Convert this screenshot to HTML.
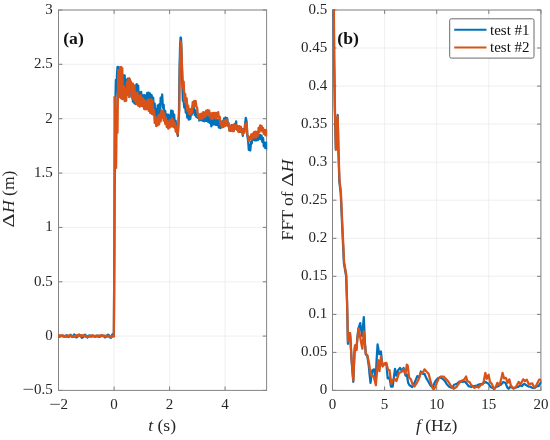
<!DOCTYPE html>
<html><head><meta charset="utf-8"><title>Figure</title>
<style>html,body{margin:0;padding:0;background:#fff;overflow:hidden}svg{display:block}</style></head>
<body>
<svg width="550" height="440" viewBox="0 0 550 440">
<rect width="550" height="440" fill="#fff"/>
<defs><clipPath id="cl"><rect x="58.0" y="9.5" width="209.2" height="381.6"/></clipPath><clipPath id="cr"><rect x="332.0" y="9.5" width="209.5" height="381.6"/></clipPath></defs>
<path d="M58.5 10.0V390.4M114.1 10.0V390.4M169.6 10.0V390.4M225.1 10.0V390.4M58.5 10.0H266.7M58.5 64.3H266.7M58.5 118.7H266.7M58.5 173.1H266.7M58.5 227.4H266.7M58.5 281.8H266.7M58.5 336.1H266.7M58.5 390.4H266.7" stroke="#ebebeb" stroke-width="0.8" fill="none"/>
<path d="M332.5 10.0V390.4M384.6 10.0V390.4M436.7 10.0V390.4M488.8 10.0V390.4M540.9 10.0V390.4M332.5 10.0H540.9M332.5 48.0H540.9M332.5 86.1H540.9M332.5 124.1H540.9M332.5 162.2H540.9M332.5 200.2H540.9M332.5 238.3H540.9M332.5 276.3H540.9M332.5 314.4H540.9M332.5 352.4H540.9M332.5 390.4H540.9" stroke="#ebebeb" stroke-width="0.8" fill="none"/>
<path d="M58.5 390.4v-3.9M58.5 10.0v3.9M114.1 390.4v-3.9M114.1 10.0v3.9M169.6 390.4v-3.9M169.6 10.0v3.9M225.1 390.4v-3.9M225.1 10.0v3.9M58.5 10.0h3.9M266.7 10.0h-3.9M58.5 64.3h3.9M266.7 64.3h-3.9M58.5 118.7h3.9M266.7 118.7h-3.9M58.5 173.1h3.9M266.7 173.1h-3.9M58.5 227.4h3.9M266.7 227.4h-3.9M58.5 281.8h3.9M266.7 281.8h-3.9M58.5 336.1h3.9M266.7 336.1h-3.9M58.5 390.4h3.9M266.7 390.4h-3.9" stroke="#6e6e6e" stroke-width="0.9" fill="none"/>
<rect x="58.5" y="10.0" width="208.1" height="380.4" fill="none" stroke="#858585" stroke-width="1"/>
<path d="M332.5 390.4v-3.9M332.5 10.0v3.9M384.6 390.4v-3.9M384.6 10.0v3.9M436.7 390.4v-3.9M436.7 10.0v3.9M488.8 390.4v-3.9M488.8 10.0v3.9M540.9 390.4v-3.9M540.9 10.0v3.9M332.5 10.0h3.9M540.9 10.0h-3.9M332.5 48.0h3.9M540.9 48.0h-3.9M332.5 86.1h3.9M540.9 86.1h-3.9M332.5 124.1h3.9M540.9 124.1h-3.9M332.5 162.2h3.9M540.9 162.2h-3.9M332.5 200.2h3.9M540.9 200.2h-3.9M332.5 238.3h3.9M540.9 238.3h-3.9M332.5 276.3h3.9M540.9 276.3h-3.9M332.5 314.4h3.9M540.9 314.4h-3.9M332.5 352.4h3.9M540.9 352.4h-3.9M332.5 390.4h3.9M540.9 390.4h-3.9" stroke="#6e6e6e" stroke-width="0.9" fill="none"/>
<rect x="332.5" y="10.0" width="208.4" height="380.4" fill="none" stroke="#858585" stroke-width="1"/>
<g clip-path="url(#cl)" fill="none" stroke-width="2.25" stroke-linejoin="round" stroke-linecap="round">
<polyline points="58.5,336.3 59.1,336.8 59.8,336.6 60.4,336.3 61.0,335.8 61.6,335.4 62.2,335.6 62.8,335.6 63.4,335.9 64.0,336.6 64.6,336.7 65.2,336.2 65.8,335.9 66.4,335.2 67.0,335.7 67.6,336.4 68.2,336.8 68.8,337.1 69.4,335.8 70.0,335.3 70.6,334.8 71.2,335.9 71.8,336.7 72.4,337.0 73.0,336.5 73.6,335.1 74.2,334.4 74.8,335.0 75.4,336.2 76.0,337.3 76.6,337.4 77.2,337.1 77.8,336.0 78.4,335.0 79.0,334.5 79.6,334.9 80.2,335.5 80.8,336.1 81.4,337.3 82.0,337.9 82.6,337.5 83.2,337.1 83.8,335.8 84.4,335.2 85.0,334.7 85.6,335.0 86.2,336.0 86.8,336.7 87.4,337.5 88.0,337.0 88.6,335.8 89.2,335.3 89.8,335.5 90.4,335.7 91.0,336.2 91.6,336.6 92.2,336.1 92.8,336.1 93.4,335.8 94.0,336.0 94.6,336.4 95.2,336.9 95.8,336.2 96.4,335.8 97.0,335.6 97.6,335.5 98.2,335.7 98.8,336.9 99.4,336.7 100.0,336.7 100.6,336.1 101.2,335.5 101.8,335.2 102.4,335.5 103.0,335.7 103.6,336.0 104.2,336.4 104.8,337.4 105.4,337.1 106.0,336.9 106.6,335.8 107.2,335.4 107.8,334.7 108.4,334.8 109.0,335.4 109.6,336.5 110.2,337.5 110.8,337.9 111.4,336.4 112.0,335.2 112.6,334.2 113.2,335.2 113.9,336.1 114.6,200.0 115.2,110.0 115.9,80.0 116.5,87.0 117.1,72.0 117.5,67.0 118.0,95.0 118.5,67.0 119.0,96.0 119.4,94.7 120.2,69.3 120.9,94.4 121.7,74.2 122.4,99.2 123.2,75.0 123.9,91.7 124.7,75.3 125.4,94.2 126.2,79.9 126.9,95.4 127.7,78.7 128.4,91.1 129.2,78.3 129.9,91.7 130.7,81.3 131.4,96.8 132.2,87.0 132.9,101.7 133.7,85.6 134.4,103.4 135.2,85.6 135.9,104.1 136.7,84.1 137.4,101.8 138.2,85.6 138.9,105.7 139.7,92.3 140.4,105.9 141.2,91.9 141.9,104.6 142.7,95.3 143.4,105.0 144.2,95.0 144.9,105.0 145.7,95.5 146.4,103.7 147.2,92.8 147.9,100.7 148.7,92.7 149.4,104.0 150.2,93.7 150.9,105.4 151.7,95.2 152.4,107.9 153.2,97.7 153.9,109.0 154.7,103.6 155.4,118.0 156.2,109.0 156.9,120.9 157.7,105.3 158.4,120.8 159.2,104.5 159.9,115.2 160.7,97.6 161.4,103.3 162.2,94.5 162.9,107.8 163.7,104.9 164.4,117.8 165.2,110.8 165.9,120.8 166.7,114.3 167.4,123.7 168.2,114.6 168.9,123.0 169.7,115.4 170.4,121.8 171.2,110.5 171.9,121.1 172.7,111.0 173.4,123.8 174.2,114.7 174.9,126.1 175.7,120.8 176.4,132.0 177.2,129.5 177.8,136.0 178.9,115.0 179.5,70.0 180.1,45.0 180.6,37.5 181.0,38.0 181.5,50.0 182.0,75.0 182.5,90.0 182.8,100.7 183.6,101.2 184.3,107.7 185.1,106.0 185.8,112.7 186.6,110.0 187.3,117.6 188.1,113.5 188.8,119.7 189.6,114.9 190.3,118.8 191.1,111.8 191.8,114.7 192.6,106.3 193.3,112.7 194.1,108.3 194.8,115.1 195.6,110.3 196.3,117.0 197.1,113.1 197.8,117.8 198.6,115.5 199.3,120.5 200.1,116.4 200.8,120.0 201.6,115.3 202.3,120.7 203.1,116.3 203.8,121.1 204.6,115.3 205.3,121.0 206.1,115.1 206.8,120.8 207.6,116.0 208.3,122.0 209.1,116.5 209.8,123.0 210.6,119.4 211.3,126.3 212.1,120.3 212.8,124.6 213.6,119.6 214.3,124.4 215.1,118.1 215.8,124.9 216.6,119.2 217.3,125.1 218.1,120.2 218.8,127.5 219.6,122.8 220.3,128.2 221.1,123.3 221.8,125.6 222.6,121.0 223.3,125.4 224.1,118.5 224.8,124.1 225.6,117.5 226.3,123.3 227.1,118.2 227.8,123.8 228.6,123.0 229.3,130.5 230.1,127.0 230.8,130.8 231.6,125.2 232.3,129.6 233.1,125.2 233.8,130.4 234.6,124.1 235.3,127.3 236.1,121.3 236.8,129.3 237.6,126.3 238.3,130.9 239.1,126.4 239.8,131.9 240.6,126.8 241.3,132.2 242.1,128.8 242.8,135.8 243.6,129.1 244.3,132.6 245.1,123.7 245.8,117.8 246.6,121.5 247.3,135.5 248.1,140.5 248.8,149.9 249.6,145.1 250.3,150.5 251.1,141.6 251.8,143.4 252.6,137.6 253.3,139.8 254.1,135.1 254.8,140.3 255.6,135.3 256.3,140.3 257.1,135.4 257.8,140.2 258.6,134.6 259.3,138.9 260.1,134.8 260.8,139.2 261.6,135.7 262.3,141.9 263.1,138.2 263.8,146.4 264.6,142.7 265.3,148.1 266.1,142.6 266.8,148.3 267.6,143.3 268.3,150.0" stroke="#0072BD"/>
<polyline points="58.5,335.9 59.2,335.7 60.0,335.8 60.7,335.8 61.4,335.8 62.1,335.9 62.8,336.0 63.5,336.0 64.2,336.2 64.9,336.2 65.6,336.3 66.3,336.2 67.0,336.4 67.7,336.0 68.4,336.1 69.1,335.9 69.8,335.8 70.5,335.8 71.2,335.9 71.9,336.3 72.6,336.5 73.3,336.4 74.0,336.5 74.7,336.4 75.4,336.3 76.1,335.9 76.8,335.7 77.5,335.6 78.2,335.7 78.9,335.5 79.6,335.6 80.3,335.7 81.0,335.6 81.7,335.7 82.4,335.6 83.1,335.8 83.8,335.9 84.5,335.8 85.2,336.1 85.9,336.3 86.6,336.4 87.3,336.4 88.0,336.5 88.7,336.4 89.4,336.3 90.1,336.3 90.8,336.0 91.5,335.8 92.2,335.7 92.9,335.8 93.6,336.1 94.3,336.1 95.0,336.2 95.7,336.3 96.4,336.2 97.1,336.2 97.8,336.0 98.5,336.0 99.2,336.0 99.9,335.8 100.6,335.9 101.3,335.9 102.0,335.8 102.7,335.8 103.4,335.9 104.1,336.0 104.8,336.0 105.5,336.1 106.2,336.1 106.9,336.2 107.6,336.1 108.3,336.2 109.0,336.5 109.7,336.5 110.4,336.5 111.1,336.7 111.8,336.4 112.5,336.3 113.2,336.0 113.8,336.1 114.4,250.0 114.5,97.0 115.3,99.0 116.1,168.0 116.8,108.0 117.5,132.7 118.0,85.0 118.3,70.0 118.8,96.0 119.3,70.0 119.8,97.0 120.3,67.0 120.8,98.0 121.3,67.0 121.8,97.0 122.3,68.0 122.8,99.0 123.2,97.5 124.0,86.2 124.7,101.2 125.5,89.5 126.2,100.8 127.0,81.6 127.7,94.7 128.4,79.2 129.2,97.1 129.9,79.3 130.7,89.8 131.4,84.7 132.2,98.5 132.9,83.5 133.7,99.7 134.4,85.6 135.2,101.5 135.9,93.5 136.7,104.1 137.4,92.5 138.2,105.7 138.9,96.3 139.7,106.6 140.4,95.2 141.2,105.8 141.9,97.6 142.7,106.4 143.4,98.8 144.2,109.2 144.9,100.6 145.7,109.4 146.4,101.9 147.2,109.0 147.9,99.7 148.7,110.9 149.4,99.6 150.2,113.0 150.9,99.3 151.7,113.8 152.4,100.4 153.2,114.7 153.9,109.8 154.7,123.0 155.4,116.6 156.2,126.1 156.9,118.3 157.7,125.4 158.4,115.7 159.2,124.3 159.9,114.3 160.7,121.4 161.4,110.4 162.2,117.8 162.9,110.7 163.7,120.6 164.4,113.5 165.2,123.9 165.9,117.9 166.7,127.0 167.4,121.1 168.2,128.7 168.9,121.7 169.7,127.6 170.4,120.3 171.2,126.4 171.9,118.6 172.7,126.6 173.4,120.3 174.2,127.5 174.9,123.4 175.7,131.3 176.4,125.8 177.2,134.1 177.8,134.0 179.3,110.0 179.9,66.0 180.5,46.0 180.9,41.5 181.3,46.0 181.9,64.0 182.4,72.0 182.9,88.0 183.7,81.6 184.4,101.0 185.2,93.8 185.9,104.1 186.7,98.3 187.4,110.8 188.2,105.5 188.9,113.6 189.7,109.3 190.4,114.5 191.2,108.9 191.9,112.7 192.7,102.2 193.4,107.0 194.2,100.8 194.9,106.2 195.7,101.0 196.4,106.8 197.2,107.8 197.9,116.3 198.7,115.4 199.4,119.4 200.2,113.8 200.9,118.7 201.7,113.7 202.4,118.7 203.2,112.2 203.9,117.4 204.7,112.3 205.4,116.5 206.2,110.6 206.9,114.9 207.7,110.2 208.4,114.4 209.2,110.5 209.9,116.7 210.7,113.5 211.4,118.9 212.2,113.1 212.9,118.7 213.7,112.8 214.4,117.7 215.2,112.8 215.9,118.5 216.7,113.0 217.4,116.9 218.2,112.2 218.9,117.8 219.7,116.6 220.4,124.1 221.2,121.7 221.9,127.4 222.7,121.7 223.4,127.0 224.2,120.4 224.9,126.0 225.7,120.5 226.4,125.3 227.2,119.4 227.9,126.0 228.7,124.2 229.4,130.5 230.2,125.8 230.9,130.1 231.7,126.2 232.4,131.2 233.2,124.8 233.9,131.1 234.7,124.7 235.4,128.9 236.2,124.9 236.9,129.5 237.7,127.4 238.4,131.9 239.2,126.4 239.9,130.6 240.7,126.9 241.4,132.0 242.2,129.3 242.9,134.4 243.7,130.0 244.4,131.9 245.2,124.6 245.9,123.9 246.7,123.2 247.4,135.4 248.2,136.0 248.9,141.0 249.7,137.2 250.4,139.3 251.2,134.5 251.9,139.4 252.7,133.6 253.4,137.5 254.2,131.9 254.9,137.6 255.7,131.7 256.4,137.4 257.1,132.1 257.9,135.6 258.6,127.8 259.4,132.2 260.1,125.3 260.9,130.4 261.6,125.9 262.4,131.5 263.1,128.0 263.9,133.9 264.6,130.1 265.4,135.3 266.1,130.0 266.9,135.1 267.6,131.2 268.4,135.4" stroke="#D95319"/>
<polyline points="58.5,335.9 59.2,335.7 60.0,335.8 60.7,335.8 61.4,335.8 62.1,335.9 62.8,336.0 63.5,336.0 64.2,336.2 64.9,336.2 65.6,336.3 66.3,336.2 67.0,336.4 67.7,336.0 68.4,336.1 69.1,335.9 69.8,335.8 70.5,335.8 71.2,335.9 71.9,336.3 72.6,336.5 73.3,336.4 74.0,336.5 74.7,336.4 75.4,336.3 76.1,335.9 76.8,335.7 77.5,335.6 78.2,335.7 78.9,335.5 79.6,335.6 80.3,335.7 81.0,335.6 81.7,335.7 82.4,335.6 83.1,335.8 83.8,335.9 84.5,335.8 85.2,336.1 85.9,336.3 86.6,336.4 87.3,336.4 88.0,336.5 88.7,336.4 89.4,336.3 90.1,336.3 90.8,336.0 91.5,335.8 92.2,335.7 92.9,335.8 93.6,336.1 94.3,336.1 95.0,336.2 95.7,336.3 96.4,336.2 97.1,336.2 97.8,336.0 98.5,336.0 99.2,336.0 99.9,335.8 100.6,335.9 101.3,335.9 102.0,335.8 102.7,335.8 103.4,335.9 104.1,336.0 104.8,336.0 105.5,336.1 106.2,336.1 106.9,336.2 107.6,336.1 108.3,336.2 109.0,336.5 109.7,336.5 110.4,336.5 111.1,336.7 111.8,336.4 112.5,336.3 113.2,336.0 113.8,336.1" stroke="#D95319" stroke-width="2.8"/>
</g>
<g clip-path="url(#cr)" fill="none" stroke-width="2.25" stroke-linejoin="round" stroke-linecap="round">
<polyline points="333.7,9.7 334.1,60.0 334.8,110.0 335.8,149.0 336.8,131.0 337.7,115.0 338.4,150.0 339.3,181.0 340.7,193.0 342.3,229.0 343.9,263.0 346.1,276.0 347.0,300.0 347.4,318.0 347.9,343.8 348.7,334.5 350.0,333.5 350.4,338.0 351.6,361.0 353.3,381.8 354.5,352.0 355.0,346.0 355.8,345.5 356.4,350.0 357.3,338.0 358.3,329.0 360.2,323.1 361.5,332.0 362.2,336.0 363.8,317.1 365.0,344.0 365.8,354.5 367.3,356.0 368.8,366.0 369.4,373.0 370.5,382.9 372.3,370.2 374.1,369.3 375.6,382.0 376.6,360.0 377.6,344.4 379.3,354.2 380.9,351.5 382.5,366.0 384.5,364.0 386.4,364.0 387.7,378.4 389.5,377.5 391.0,386.5 392.7,386.5 393.8,378.0 395.0,368.8 396.4,375.6 398.2,370.2 400.0,367.9 401.8,371.0 403.6,367.9 405.5,375.6 406.8,374.5 408.2,382.9 409.5,385.2 412.3,387.0 414.5,382.9 417.3,376.1 419.1,377.5 420.9,371.5 422.7,373.8 424.5,373.8 426.4,378.4 428.6,382.0 430.9,386.1 432.7,387.0 434.5,382.9 435.5,381.0 437.7,378.4 440.0,377.5 442.7,378.8 445.0,381.1 446.8,384.3 449.5,387.0 452.3,387.9 454.1,384.7 456.8,383.8 459.5,381.5 462.3,382.0 465.0,381.5 466.8,383.8 468.6,386.1 471.4,387.0 474.1,386.1 476.8,385.6 479.5,384.3 482.3,383.8 484.5,382.5 485.5,382.0 488.2,383.4 490.5,387.0 492.7,387.9 494.1,389.0 496.0,387.0 498.2,386.1 500.9,384.7 503.2,382.0 505.5,382.9 507.3,387.5 508.6,388.8 510.5,386.5 513.6,388.6 515.9,387.5 518.2,387.0 520.0,385.2 521.8,386.1 524.1,383.8 526.4,385.2 528.6,386.5 530.0,386.5 532.3,387.9 534.5,388.0 536.4,386.5 538.6,386.1 540.5,382.9 541.3,382.5" stroke="#0072BD"/>
<polyline points="333.9,9.7 334.3,60.0 335.0,110.0 335.9,150.0 336.8,132.0 337.7,116.5 338.5,150.0 339.5,180.0 340.9,192.3 342.5,228.0 344.1,262.0 346.3,275.0 347.0,300.0 347.4,316.0 347.9,341.5 348.7,334.0 350.0,332.9 350.4,337.8 351.6,360.0 353.3,380.4 354.5,352.0 355.0,345.5 355.8,344.9 356.4,349.8 357.5,338.0 358.5,328.5 359.8,335.0 361.2,343.0 362.4,348.7 363.8,331.3 365.2,346.0 365.8,354.2 366.8,354.6 367.4,355.2 369.2,364.0 370.0,370.5 371.4,375.6 373.6,376.1 375.9,385.2 377.0,372.0 378.2,360.2 379.5,371.1 380.9,356.5 382.7,366.5 384.5,363.4 386.4,362.9 388.2,370.2 389.5,370.2 391.4,383.8 392.7,380.2 394.5,378.8 396.4,381.1 399.1,372.9 401.4,372.0 403.6,369.3 405.5,373.8 406.8,364.7 407.7,365.5 409.1,377.5 410.9,379.3 412.7,384.7 414.5,386.5 416.8,382.9 418.6,379.3 420.9,372.9 422.7,372.9 424.5,369.3 426.4,371.5 428.6,373.8 430.5,381.1 432.3,387.5 433.6,389.3 435.5,386.5 436.8,382.9 439.1,377.9 440.9,376.5 443.6,376.5 445.9,378.8 448.6,382.0 451.4,386.5 453.6,388.8 456.4,387.0 458.6,383.8 460.9,381.1 464.1,379.7 466.1,376.5 467.3,381.1 469.5,382.0 471.4,385.2 474.5,387.9 476.8,386.5 478.6,387.5 480.5,385.2 482.7,384.3 483.8,381.0 485.3,372.9 486.8,378.8 488.6,374.7 490.0,382.0 491.8,383.8 494.1,389.3 495.9,386.5 497.3,382.9 499.5,385.2 501.4,378.4 502.5,372.9 504.1,378.4 505.9,377.9 507.7,382.9 509.3,379.3 510.9,385.6 513.6,388.4 515.9,387.0 518.6,382.0 520.9,383.8 523.2,379.3 525.0,381.1 526.8,379.7 528.6,383.8 530.0,383.8 532.3,383.4 534.1,387.5 535.9,386.1 537.7,382.5 539.1,379.7 540.5,379.7 541.3,380.5" stroke="#D95319"/>
</g>
<g font-family="'Liberation Serif','DejaVu Serif',serif">
<text x="45.20" y="13.8" font-size="15.0" fill="#262626">3</text>
<text x="33.95" y="68.1" font-size="15.0" fill="#262626">2.5</text>
<text x="45.20" y="122.5" font-size="15.0" fill="#262626">2</text>
<text x="33.95" y="176.9" font-size="15.0" fill="#262626">1.5</text>
<text x="45.20" y="231.2" font-size="15.0" fill="#262626">1</text>
<text x="33.95" y="285.6" font-size="15.0" fill="#262626">0.5</text>
<text x="45.20" y="339.9" font-size="15.0" fill="#262626">0</text>
<text x="22.35" y="394.2" font-size="15.0" fill="#262626"><tspan textLength="11.6" lengthAdjust="spacingAndGlyphs">−</tspan><tspan x="33.95">0.5</tspan></text>
<text x="49.00" y="408.5" font-size="15.0" fill="#262626"><tspan textLength="11.6" lengthAdjust="spacingAndGlyphs">−</tspan><tspan x="60.60">2</tspan></text>
<text x="110.31" y="408.5" font-size="15.0" fill="#262626">0</text>
<text x="165.81" y="408.5" font-size="15.0" fill="#262626">2</text>
<text x="221.32" y="408.5" font-size="15.0" fill="#262626">4</text>
<text x="308.55" y="13.8" font-size="15.0" fill="#262626">0.5</text>
<text x="301.05" y="51.8" font-size="15.0" fill="#262626">0.45</text>
<text x="308.55" y="89.9" font-size="15.0" fill="#262626">0.4</text>
<text x="301.05" y="127.9" font-size="15.0" fill="#262626">0.35</text>
<text x="308.55" y="166.0" font-size="15.0" fill="#262626">0.3</text>
<text x="301.05" y="204.0" font-size="15.0" fill="#262626">0.25</text>
<text x="308.55" y="242.1" font-size="15.0" fill="#262626">0.2</text>
<text x="301.05" y="280.1" font-size="15.0" fill="#262626">0.15</text>
<text x="308.55" y="318.2" font-size="15.0" fill="#262626">0.1</text>
<text x="301.05" y="356.2" font-size="15.0" fill="#262626">0.05</text>
<text x="319.80" y="394.2" font-size="15.0" fill="#262626">0</text>
<text x="328.75" y="408.5" font-size="15.0" fill="#262626">0</text>
<text x="380.85" y="408.5" font-size="15.0" fill="#262626">5</text>
<text x="429.20" y="408.5" font-size="15.0" fill="#262626">10</text>
<text x="481.30" y="408.5" font-size="15.0" fill="#262626">15</text>
<text x="533.40" y="408.5" font-size="15.0" fill="#262626">20</text>
<text x="162.1" y="431.2" text-anchor="middle" font-size="17.6" fill="#262626"><tspan font-style="italic">t</tspan> (s)</text>
<text x="436.7" y="431.2" text-anchor="middle" font-size="17.6" fill="#262626"><tspan font-style="italic">f</tspan> (Hz)</text>
<text transform="translate(13.5,227.6) rotate(-90)" font-size="17.6" fill="#262626"><tspan x="0" textLength="14.0" lengthAdjust="spacingAndGlyphs">Δ</tspan><tspan x="14.5" font-style="italic">H</tspan> (m)</text>
<text transform="translate(292.8,240.4) rotate(-90)" font-size="17.6" fill="#262626">FFT of <tspan x="53.8" textLength="14.0" lengthAdjust="spacingAndGlyphs">Δ</tspan><tspan x="68.2" font-style="italic">H</tspan></text>
<text x="63.2" y="43.5" font-size="17.7" font-weight="bold" fill="#111">(a)</text>
<text x="337.3" y="43.5" font-size="17.7" font-weight="bold" fill="#111">(b)</text>
<rect x="449.7" y="18.8" width="84.3" height="39.3" rx="1.6" fill="#fff" stroke="#6a6a6a" stroke-width="1"/>
<path d="M454.2 29.8H486.5" stroke="#0072BD" stroke-width="2"/>
<path d="M454.2 47.5H486.5" stroke="#D95319" stroke-width="2"/>
<text x="490.0" y="34.7" font-size="15" fill="#111">test #1</text>
<text x="490.0" y="52.4" font-size="15" fill="#111">test #2</text>
</g>
</svg>
</body></html>
